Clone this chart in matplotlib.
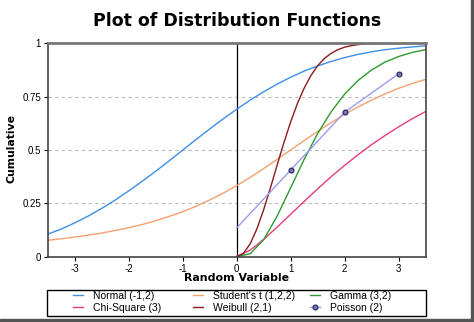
import matplotlib
matplotlib.use("Agg")
import matplotlib.pyplot as plt
from matplotlib.patches import Rectangle

plt.rcParams['font.family'] = ['Liberation Sans', 'DejaVu Sans']

# curves drawn over the whole axis
x_full = [-3.5, -3.25, -3.0, -2.75, -2.5, -2.25, -2.0, -1.75, -1.5, -1.25,
          -1.0, -0.75, -0.5, -0.25, 0.0, 0.25, 0.5, 0.75, 1.0, 1.25,
          1.5, 1.75, 2.0, 2.25, 2.5, 2.75, 3.0, 3.25, 3.5]
normal_y = [0.106, 0.130, 0.159, 0.191, 0.227, 0.266, 0.309, 0.354, 0.401, 0.450,
            0.500, 0.550, 0.599, 0.646, 0.691, 0.734, 0.773, 0.809, 0.841, 0.870,
            0.894, 0.915, 0.933, 0.948, 0.960, 0.970, 0.977, 0.983, 0.988]
student_y = [0.077, 0.084, 0.092, 0.101, 0.111, 0.123, 0.136, 0.151, 0.169, 0.189,
             0.211, 0.237, 0.266, 0.298, 0.333, 0.372, 0.413, 0.456, 0.500, 0.544,
             0.587, 0.628, 0.667, 0.702, 0.734, 0.763, 0.789, 0.811, 0.831]

# curves that start at zero
x_pos = [0.0, 0.25, 0.5, 0.75, 1.0, 1.25, 1.5, 1.75, 2.0, 2.25,
         2.5, 2.75, 3.0, 3.25, 3.5]
chisq_y = [0.0, 0.031, 0.081, 0.139, 0.199, 0.259, 0.318, 0.375, 0.428, 0.478,
           0.525, 0.568, 0.608, 0.646, 0.680]
gamma_y = [0.0, 0.014, 0.080, 0.191, 0.323, 0.456, 0.577, 0.679, 0.762, 0.826,
           0.875, 0.912, 0.938, 0.957, 0.970]

x_weib = [0.0, 0.125, 0.25, 0.375, 0.5, 0.625, 0.75, 0.875, 1.0, 1.125,
          1.25, 1.375, 1.5, 1.625, 1.75, 1.875, 2.0, 2.125, 2.25, 2.375,
          2.5, 2.75, 3.0, 3.25, 3.5]
weibull_y = [0.0, 0.016, 0.061, 0.131, 0.221, 0.323, 0.430, 0.535, 0.632, 0.718,
             0.790, 0.849, 0.895, 0.929, 0.953, 0.970, 0.982, 0.989, 0.994, 0.997,
             0.998, 0.9995, 1.0, 1.0, 1.0]

pois_x = [0, 1, 2, 3]
pois_y = [0.135, 0.406, 0.677, 0.857]

x_ticks = [-3, -2, -1, 0, 1, 2, 3]
y_ticks = [0, 0.25, 0.5, 0.75, 1]
y_ticklabels = ['0', '0.25', '0.5', '0.75', '1']

W, H = 474, 322
fig = plt.figure(figsize=(W / 100, H / 100), dpi=100)
ax = fig.add_axes([48 / W, 1 - 256.7 / H, (425.5 - 48) / W, (256.7 - 43.3) / H])

ax.set_xlim(-3.5, 3.5)
ax.set_ylim(0, 1)
ax.set_xticks(x_ticks)
ax.set_xticklabels([str(t) for t in x_ticks])
ax.set_yticks(y_ticks)
ax.set_yticklabels(y_ticklabels)
ax.tick_params(labelsize=7, length=3, width=0.8, direction='out', pad=2)
ax.grid(axis='y', ls=(0, (3, 3)), color='#bbbbbb', lw=0.8)
ax.set_axisbelow(True)
for s in ax.spines.values():
    s.set_color('#444444')
    s.set_linewidth(1.2)
ax.spines['top'].set_color('#777777')
ax.spines['top'].set_linewidth(2)

ax.axvline(0, color='black', lw=0.9, zorder=1)

l_norm, = ax.plot(x_full, normal_y, color='#3d8fe6', lw=1, label='Normal (-1,2)')
l_stud, = ax.plot(x_full, student_y, color='#f4a070', lw=1, label="Student's t (1,2,2)")
l_chi, = ax.plot(x_pos, chisq_y, color='#e83c7c', lw=1, label='Chi-Square (3)')
l_gam, = ax.plot(x_pos, gamma_y, color='#2e9a2e', lw=1, label='Gamma (3,2)')
l_weib, = ax.plot(x_weib, weibull_y, color='#8b1c1c', lw=1, label='Weibull (2,1)')
l_pois, = ax.plot(pois_x, pois_y, color='#9a9af0', lw=1, marker='o', markersize=3.5,
                  markerfacecolor='#7777bb', markeredgecolor='#222255',
                  markeredgewidth=0.8, markevery=[1, 2, 3], label='Poisson (2)')

fig.text(237 / W, 1 - 26 / H, 'Plot of Distribution Functions', ha='center',
         va='baseline', fontsize=12.5, fontweight='bold', family='DejaVu Sans')
fig.text(237 / W, 1 - 281 / H, 'Random Variable', ha='center', va='baseline',
         fontsize=7.9, fontweight='bold', family='DejaVu Sans')
fig.text(12 / W, 1 - 149 / H, 'Cumulative', ha='center', va='center',
         rotation=90, fontsize=7.8, fontweight='bold', family='DejaVu Sans')

# legend: three single-column blocks inside one frame
cols = [(73, [l_norm, l_chi]), (193, [l_stud, l_weib]), (310, [l_gam, l_pois])]
for x0, hs in cols:
    lg = fig.legend(handles=hs, loc='upper left',
                    bbox_to_anchor=(x0 / W, 1 - 291 / H), fontsize=7.5,
                    frameon=False, borderpad=0, borderaxespad=0,
                    handlelength=1.0, handletextpad=0.9, labelspacing=0.2)
fig.patches.append(Rectangle((47 / W, 1 - 316 / H), (426 - 47) / W, 26 / H,
                             transform=fig.transFigure, fill=False,
                             edgecolor='black', lw=1))

# window-like border on the right and bottom
fig.patches.append(Rectangle((1 - 3 / W, 0), 3 / W, 1, transform=fig.transFigure,
                             color='#555555', zorder=10))
fig.patches.append(Rectangle((0, 0), 1, 3 / H, transform=fig.transFigure,
                             color='#555555', zorder=10))

fig.savefig('out.png', dpi=100)
